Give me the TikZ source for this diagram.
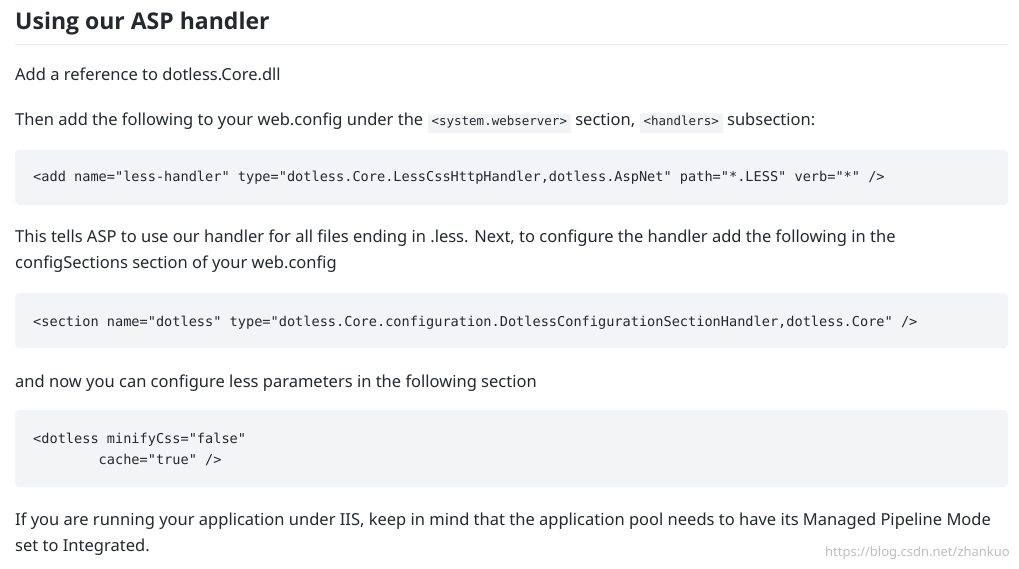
\documentclass[tikz,border=0pt]{standalone}
\usepackage{fontspec}
\setmainfont{Noto Sans}
\setmonofont{DejaVu Sans Mono}
\newfontfamily\hfont{Open Sans}
\definecolor{codebg}{HTML}{F3F4F6}
\definecolor{txt}{HTML}{24292E}
\definecolor{rule}{HTML}{EAECEF}
\newcommand{\icode}[1]{{\setlength{\fboxsep}{3pt}\colorbox{codebg}{\hspace{1pt}\fontsize{12.5}{13}\selectfont\ttfamily\strut #1\hspace{1pt}}}}
\begin{document}
\begin{tikzpicture}[x=1pt,y=-1pt,
  body/.style={anchor=base west,inner sep=0pt,text=txt,font=\fontsize{16.5}{26}\selectfont},
  code/.style={anchor=base west,inner sep=0pt,text=txt,font=\fontsize{13.6}{21}\selectfont\ttfamily,align=left},
  block/.style={fill=codebg,rounded corners=4pt}]
\useasboundingbox[fill=white] (0,0) rectangle (1019,569);
\node[body,font=\fontsize{23}{28}\selectfont\hfont\bfseries] (h) at (15,30) {Using our ASP handler};
\draw[rule,line width=1pt] (15,44.5) -- (1008,44.5);
\node[body] (p1) at (15,81) {Add a reference to dotless.Core.dll};
\node[body] (p2) at (15,126) {Then add the following to your web.config under the \icode{<system.webserver>} section, \icode{<handlers>} subsection:};
\fill[block] (15,150) rectangle (1008,205);
\node[code] (c1) at (33,182) {<add name="less-handler" type="dotless.Core.LessCssHttpHandler,dotless.AspNet" path="*.LESS" verb="*" />};
\node[body] (p3) at (15,243) {This tells ASP to use our handler for all files ending in .less. Next, to configure the handler add the following in the};
\node[body] (p3b) at (15,269) {configSections section of your web.config};
\fill[block] (15,293) rectangle (1008,348);
\node[code] (c2) at (33,326) {<section name="dotless" type="dotless.Core.configuration.DotlessConfigurationSectionHandler,dotless.Core" />};
\node[body] (p4) at (15,387) {and now you can configure less parameters in the following section};
\fill[block] (15,410) rectangle (1008,487);
\node[code] (c3) at (33,443) {<dotless minifyCss="false"};
\node[code] (c3b) at (33,464) {\ \ \ \ \ \ \ \ cache="true" />};
\node[body] (p5) at (15,525) {If you are running your application under IIS, keep in mind that the application pool needs to have its Managed Pipeline Mode};
\node[body] (p5b) at (15,551) {set to Integrated.};
\node[anchor=base east,inner sep=0pt,text=black!25,font=\fontsize{13}{14}\selectfont] (wm) at (1010,556) {https://blog.csdn.net/zhankuo};
\end{tikzpicture}
\end{document}
